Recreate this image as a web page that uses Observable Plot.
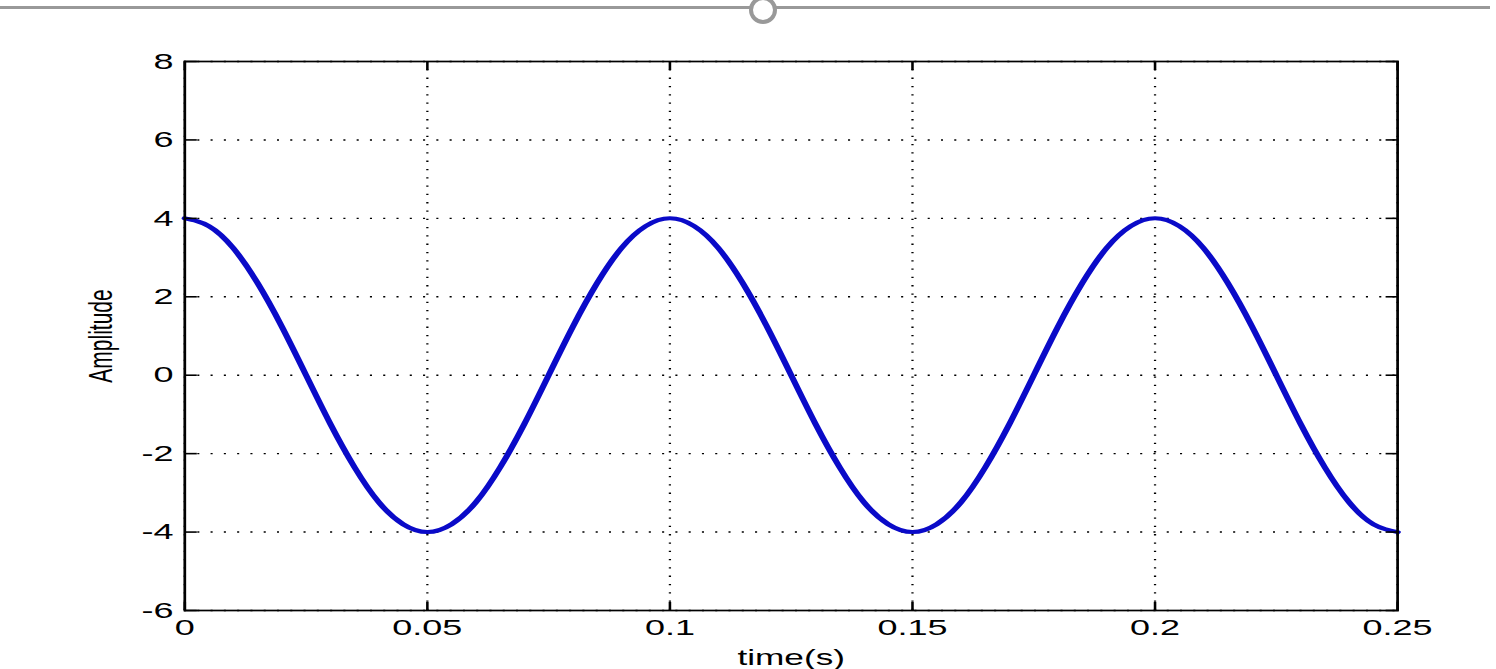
<!DOCTYPE html>
<html><head><meta charset="utf-8">
<script src="https://cdn.jsdelivr.net/npm/d3@7"></script>
<script src="https://cdn.jsdelivr.net/npm/@observablehq/plot@0.6"></script>
<style>
html,body{margin:0;padding:0;background:#fff;overflow:hidden}
#wrap{position:relative;width:1496px;height:669px;overflow:hidden}
#chart{position:absolute;left:0;top:0;transform:scaleX(1.6);transform-origin:0 0}
#topline{position:absolute;left:0;top:6px;width:1490px;height:3px;background:#999}
#knob{position:absolute;left:749px;top:-4px;width:20px;height:20px;border:4px solid #999;border-radius:50%;background:#fff}
</style></head>
<body><div id="wrap"><div id="chart"></div><div id="topline"></div><div id="knob"></div></div>
<script>
// time samples (s)
const time = [0,0.005,0.01,0.015,0.02,0.025,0.03,0.035,0.04,0.045,
  0.05,0.055,0.06,0.065,0.07,0.075,0.08,0.085,0.09,0.095,
  0.1,0.105,0.11,0.115,0.12,0.125,0.13,0.135,0.14,0.145,
  0.15,0.155,0.16,0.165,0.17,0.175,0.18,0.185,0.19,0.195,
  0.2,0.205,0.21,0.215,0.22,0.225,0.23,0.235,0.24,0.245,0.25];
// amplitude
const amplitude = [4.00,3.80,3.24,2.35,1.24,0.00,-1.24,-2.35,-3.24,-3.80,
  -4.00,-3.80,-3.24,-2.35,-1.24,0.00,1.24,2.35,3.24,3.80,
  4.00,3.80,3.24,2.35,1.24,0.00,-1.24,-2.35,-3.24,-3.80,
  -4.00,-3.80,-3.24,-2.35,-1.24,0.00,1.24,2.35,3.24,3.80,
  4.00,3.80,3.24,2.35,1.24,0.00,-1.24,-2.35,-3.24,-3.80,-4.00];
const xTicks = [0,0.05,0.1,0.15,0.2,0.25];
const xTickLabels = ["0","0.05","0.1","0.15","0.2","0.25"];
const yTicks = [-6,-4,-2,0,2,4,6,8];
const yTickLabels = ["-6","-4","-2","0","2","4","6","8"];
const xLabel = "time(s)";
const yLabel = "Amplitude";

const data = time.map((t, i) => ({t, a: amplitude[i]}));
const gridStyle = {stroke: "#000", strokeOpacity: 1, strokeWidth: 1.4, strokeDasharray: "1.3,7"};
const tickStyle = {tickSize: -8, text: null, label: null, strokeWidth: 1.6};

const chart = Plot.plot({
  width: 935, height: 669,
  marginLeft: 115, marginRight: 62, marginTop: 61, marginBottom: 59,
  style: {fontFamily: "'Liberation Sans', Arial, sans-serif", fontSize: "22.5px", color: "#000", background: "transparent"},
  x: {domain: [0, 0.25]},
  y: {domain: [-6, 8]},
  marks: [
    Plot.gridX({ticks: xTicks, ...gridStyle}),
    Plot.gridY({ticks: yTicks, ...gridStyle}),
    Plot.line(data, {x: "t", y: "a", stroke: "#0a0ac8", strokeWidth: 4, curve: "natural"}),
    Plot.axisX({ticks: xTicks, anchor: "bottom", ...tickStyle}),
    Plot.axisX({ticks: xTicks, anchor: "top", ...tickStyle}),
    Plot.axisY({ticks: yTicks, anchor: "left", ...tickStyle}),
    Plot.axisY({ticks: yTicks, anchor: "right", ...tickStyle}),
    Plot.axisX({ticks: xTicks, anchor: "bottom", tickSize: 0, tickPadding: 9, label: null,
      tickFormat: d => xTickLabels[xTicks.indexOf(d)]}),
    Plot.axisY({ticks: yTicks, anchor: "left", tickSize: 0, tickPadding: 7, label: null,
      tickFormat: d => yTickLabels[yTicks.indexOf(d)]}),
    Plot.frame({stroke: "#000", strokeWidth: 1.7}),
    Plot.text([xLabel], {frameAnchor: "bottom", dy: 47, lineAnchor: "middle", fontSize: 22}),
    Plot.text([yLabel], {frameAnchor: "left", dx: -52, rotate: -90, textAnchor: "middle", lineAnchor: "middle", fontSize: 21})
  ]
});
document.getElementById("chart").appendChild(chart);
</script>
</body></html>
